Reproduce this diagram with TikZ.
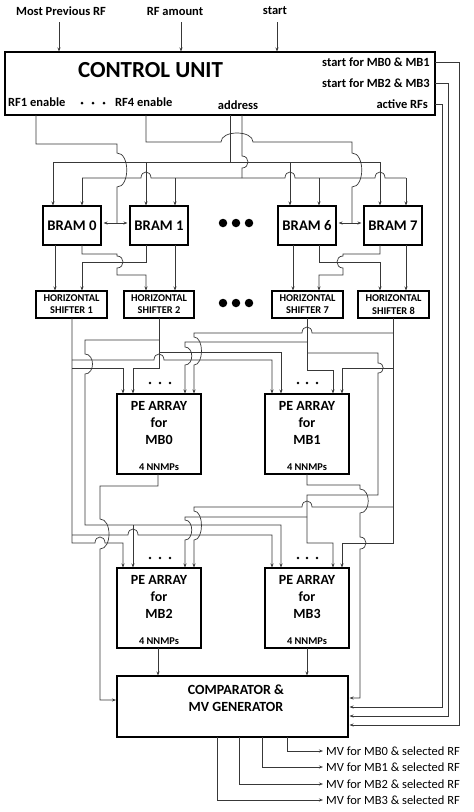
\documentclass[tikz,border=0pt]{standalone}
\usepackage{fontspec}
\setmainfont{Carlito}
\usetikzlibrary{arrows.meta,calc}
% hop-over bumps
\newcommand\hb[4]{-- ({#1},{#3}) .. controls ({#1},{#3-#4}) and ({#2},{#3-#4}) .. ({#2},{#3})}
\newcommand\vb[4]{-- ({#1},{#2}) .. controls ({#1+#4},{#2}) and ({#1+#4},{#3}) .. ({#1},{#3})}
\begin{document}
\begin{tikzpicture}[x=1pt,y=-1pt,
  box/.style={draw=black, line width=1.1pt, inner sep=0pt},
  wire/.style={draw=black!78, line width=0.7pt},
  arr/.style={wire, -{Stealth[length=4pt,width=3pt]}},
  darr/.style={wire, {Stealth[length=4pt,width=3pt]}-{Stealth[length=4pt,width=3pt]}},
  lbl/.style={inner sep=0pt, font=\bfseries\fontsize{12.5}{15}\selectfont},
  mvlbl/.style={inner sep=0pt, anchor=west, font=\fontsize{12.5}{15}\selectfont},
  bramt/.style={inner sep=0pt, font=\bfseries\fontsize{14.7}{17}\selectfont},
  hst/.style={inner sep=0pt, font=\bfseries\fontsize{10.4}{12}\selectfont},
  pet/.style={inner sep=0pt, font=\bfseries\fontsize{14}{17}\selectfont},
  nnt/.style={inner sep=0pt, font=\bfseries\fontsize{10.4}{12}\selectfont},
  bigdot/.style={fill=black, circle, inner sep=0pt, minimum size=8.5pt},
  smdot/.style={fill=black, circle, inner sep=0pt, minimum size=2.6pt}
]
\useasboundingbox[fill=white] (0,0) rectangle (474,812);

% ---------------- top inputs ----------------
\node[lbl] (tmpr) at (61,11) {Most Previous RF};
\node[lbl] (tamt) at (175,11) {RF amount};
\node[lbl] (tst) at (275,11) {start};

% ---------------- control unit ----------------
\node[box, minimum width=430pt, minimum height=63pt] (cu) at (220,83.5) {};
\node[inner sep=0pt, font=\bfseries\fontsize{23}{26}\selectfont] (cutitle) at (150.5,70) {CONTROL UNIT};
\node[lbl, anchor=east] (cus01) at (430,62) {start for MB0 \& MB1};
\node[lbl, anchor=east] (cus23) at (430,83) {start for MB2 \& MB3};
\node[lbl, anchor=east] (cuact) at (428,104) {active RFs};
\node[lbl, anchor=west] (curf1) at (8,102) {RF1 enable};
\node[lbl, anchor=west] (curf4) at (115,102) {RF4 enable};
\node[lbl] (cuaddr) at (238,105) {address};
\node[smdot, minimum size=3pt] (cud1) at (82,103) {};
\node[smdot, minimum size=3pt] (cud2) at (93,103) {};
\node[smdot, minimum size=3pt] (cud3) at (104,103) {};

\draw[arr] (59,22) -- (59,51.5);
\draw[arr] (181,22) -- (181,51.5);
\draw[arr] (277,22) -- (277,51.5);

% ---------------- BRAMs ----------------
\node[box, minimum width=58pt, minimum height=39pt] (b0) at (72,225.5) {};
\node[box, minimum width=58pt, minimum height=39pt] (b1) at (159,225.5) {};
\node[box, minimum width=58pt, minimum height=39pt] (b6) at (307,225.5) {};
\node[box, minimum width=58pt, minimum height=39pt] (b7) at (393,225.5) {};
\node[bramt] (b0t) at (b0) {BRAM 0};
\node[bramt] (b1t) at (b1) {BRAM 1};
\node[bramt] (b6t) at (b6) {BRAM 6};
\node[bramt] (b7t) at (b7) {BRAM 7};
\node[bigdot] (bd1) at (223,223) {};
\node[bigdot] (bd2) at (236,223) {};
\node[bigdot] (bd3) at (249,223) {};

% ---------------- shifters ----------------
\node[box, minimum width=71pt, minimum height=27pt] (h1) at (71.5,304.5) {};
\node[box, minimum width=70pt, minimum height=27pt] (h2) at (159,304.5) {};
\node[box, minimum width=71pt, minimum height=27pt] (h7) at (307.5,304.5) {};
\node[box, minimum width=71pt, minimum height=27pt] (h8) at (393.5,304.5) {};
\node[hst] (h1a) at (71.5,298.5) {HORIZONTAL};
\node[hst] (h1b) at (71.5,310.5) {SHIFTER 1};
\node[hst] (h2a) at (159,298.5) {HORIZONTAL};
\node[hst] (h2b) at (159,310.5) {SHIFTER 2};
\node[hst] (h7a) at (307.5,298.5) {HORIZONTAL};
\node[hst] (h7b) at (307.5,310.5) {SHIFTER 7};
\node[hst] (h8a) at (393.5,298.5) {HORIZONTAL};
\node[hst] (h8b) at (393.5,310.5) {SHIFTER 8};
\node[bigdot] (hd1) at (223,303) {};
\node[bigdot] (hd2) at (236,303) {};
\node[bigdot] (hd3) at (249,303) {};

% ---------------- PE arrays ----------------
\node[box, minimum width=84pt, minimum height=80pt] (p0) at (159,434) {};
\node[box, minimum width=84pt, minimum height=80pt] (p1) at (307,434) {};
\node[box, minimum width=84pt, minimum height=80pt] (p2) at (159,608) {};
\node[box, minimum width=84pt, minimum height=80pt] (p3) at (307,608) {};
\foreach \n/\x/\y/\m in {p0/159/0/MB0, p1/307/0/MB1, p2/159/174/MB2, p3/307/174/MB3}{
  \node[pet] (\n a) at (\x,406+\y) {PE ARRAY};
  \node[pet] (\n b) at (\x,423+\y) {for};
  \node[pet] (\n c) at (\x,440+\y) {\m};
  \node[nnt] (\n d) at (\x,467+\y) {4 NNMPs};
}
\foreach \x/\y [count=\i] in {150/383,160/383,170/383,298/383,307/383,317/383,150/558,160/558,170/558,298/558,307/558,317/558}{
  \node[smdot] (sd\i) at (\x,\y) {};
}

% ---------------- comparator ----------------
\node[box, minimum width=231pt, minimum height=61pt] (cmp) at (232.5,706.5) {};
\node[pet] (cmpa) at (236,690) {COMPARATOR \&};
\node[pet] (cmpb) at (236,707) {MV GENERATOR};

% ---------------- CU -> BRAM wiring ----------------
% RF1 enable
\draw[wire] (36,115) -- (36,144) -- (117,144) \vb{117}{153}{187}{13} -- (117,223);
\draw[darr] ($(b0.east)+(2,-2.5)$) -- ($(b1.west)+(-2,-2.5)$);
% RF4 enable
\draw[wire] (146,115) -- (146,142) \hb{221}{253}{142}{12} -- (352,142) \vb{352}{153}{187}{13} -- (352,223);
\draw[darr] ($(b6.east)+(2,-2.5)$) -- ($(b7.west)+(-2,-2.5)$);
% address
\draw[wire] (230,115) -- (230,162);
\draw[wire] (242,115) \vb{242}{156}{168}{8} -- (242,178);
% bus A
\draw[wire] (53,162) -- (380,162);
\draw[arr] (53,162) -- (53,205.5);
\draw[arr] (146,162) -- (146,205.5);
\draw[arr] (290,162) -- (290,205.5);
\draw[arr] (380,162) -- (380,205.5);
% bus B
\draw[wire] (82,178) \hb{141}{151}{178}{8} \hb{285}{295}{178}{8} \hb{375}{385}{178}{8} -- (406,178);
\draw[arr] (82,178) -- (82,205.5);
\draw[arr] (175,178) -- (175,205.5);
\draw[arr] (319,178) -- (319,205.5);
\draw[arr] (406,178) -- (406,205.5);

% ---------------- BRAM -> shifters ----------------
\draw[arr] (55,245) -- (55,290.5);
\draw[arr] (82,245) -- (82,254) -- (117,254) \vb{117}{256}{268}{8} -- (117,275) -- (146,275) -- (146,290.5);
\draw[arr] (146,245) -- (146,262) -- (82,262) -- (82,290.5);
\draw[arr] (175,245) -- (175,290.5);
\draw[arr] (293,245) -- (293,290.5);
\draw[arr] (319,245) -- (319,262) -- (380,262) -- (380,290.5);
\draw[arr] (380,245) -- (380,254) -- (343,254) \vb{343}{256}{268}{-8} -- (343,275) -- (319,275) -- (319,290.5);
\draw[arr] (406,245) -- (406,290.5);

% ---------------- shifters -> PE arrays ----------------
% HS1
\draw[arr] (72,318) -- (72,543) \hb{95}{105}{543}{8} -- (123,543) -- (123,567.5);
\draw[arr] (72,368) -- (123,368) -- (123,393.5);
\draw[arr] (72,360) \hb{154}{164}{360}{8} -- (272,360) -- (272,393.5);
\draw[arr] (72,535) \hb{128}{138}{535}{8} -- (272,535) -- (272,567.5);
% HS2
\draw[arr] (159,318) -- (159,368) -- (133,368) -- (133,393.5);
\draw[arr] (159,340) -- (85,340) \vb{85}{354}{374}{10} -- (85,525) -- (281,525) -- (281,567.5);
\draw[arr] (133,525) -- (133,567.5);
\draw[arr] (159,352) -- (281,352) -- (281,393.5);
% HS7
\draw[arr] (307,318) -- (307,370) -- (333,370) -- (333,393.5);
\draw[arr] (307,342) -- (185,342) \vb{185}{347}{365}{9} -- (185,393.5);
\draw[arr] (307,353) -- (378,353) \vb{378}{363}{373}{7} -- (378,495) -- (307,495) -- (307,543) -- (333,543) -- (333,567.5);
\draw[arr] (307,517) -- (185,517) \vb{185}{520}{540}{9} -- (185,567.5);
% HS8
\draw[arr] (393,318) -- (393,543) -- (342,543) -- (342,567.5);
\draw[arr] (393,333) \hb{312}{302}{333}{8} -- (194,333) \vb{194}{337}{365}{10} -- (194,393.5);
\draw[arr] (393,368) -- (342,368) -- (342,393.5);
\draw[arr] (393,507) \hb{312}{302}{507}{8} -- (194,507) \vb{194}{511}{540}{10} -- (194,567.5);

% ---------------- PE arrays -> comparator ----------------
\draw[arr] (158,474) -- (158,486) -- (100,486) \vb{100}{519}{549}{12} -- (100,700) -- (116,700);
\draw[arr] (307,474) -- (307,485) -- (360,485) \vb{360}{489}{513}{11} \vb{360}{537}{549}{8} -- (360,698) -- (349.5,698);
\draw[arr] (158,648) -- (158,675.5);
\draw[arr] (307,648) -- (307,675.5);

% ---------------- CU right side -> comparator ----------------
\draw[arr] (435,62) -- (459,62) -- (459,725) -- (349.5,725);
\draw[arr] (435,83) -- (448,83) -- (448,716) -- (349.5,716);
\draw[arr] (435,104) -- (442,104) -- (442,707) -- (349.5,707);

% ---------------- outputs ----------------
\draw[arr] (287,737) -- (287,751) -- (323,751);
\draw[arr] (262,737) -- (262,767) -- (323,767);
\draw[arr] (239,737) -- (239,784) -- (323,784);
\draw[arr] (217,737) -- (217,800) -- (323,800);
\node[mvlbl] (mv0) at (326,751) {MV for MB0 \& selected RF};
\node[mvlbl] (mv1) at (326,767) {MV for MB1 \& selected RF};
\node[mvlbl] (mv2) at (326,784) {MV for MB2 \& selected RF};
\node[mvlbl] (mv3) at (326,800) {MV for MB3 \& selected RF};
\end{tikzpicture}
\end{document}
